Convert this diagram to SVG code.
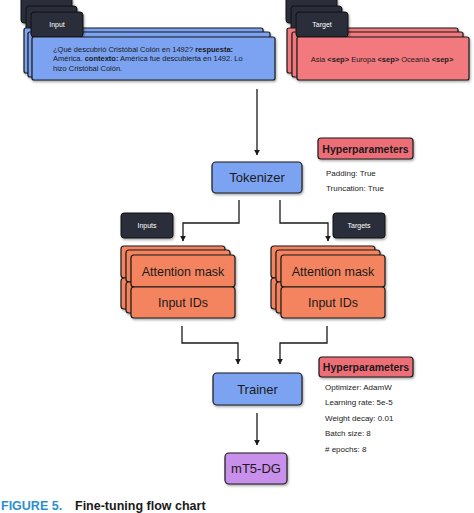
<svg xmlns="http://www.w3.org/2000/svg" width="474" height="513" viewBox="0 0 474 513">
<defs>
<filter id="sh" x="-10%" y="-10%" width="130%" height="140%">
<feDropShadow dx="1" dy="1.5" stdDeviation="1" flood-color="#000" flood-opacity="0.35"/>
</filter>
<marker id="arr" viewBox="0 0 10 10" refX="9" refY="5" markerWidth="6" markerHeight="6" markerUnits="userSpaceOnUse" orient="auto">
<path d="M0,0 L10,5 L0,10 z" fill="#1a1a1a"/>
</marker>
</defs>
<style>
text{font-family:"Liberation Sans",Arial,sans-serif;fill:#1a1a1a}
.tab{fill:#2a2e3a;stroke:#111;stroke-width:1}
.tabt{fill:#ffffff;font-size:7px;text-anchor:middle}
.blue{fill:#7ba3f2;stroke:#1a1a1a;stroke-width:1.2}
.red{fill:#f27a7e;stroke:#1a1a1a;stroke-width:1.2}
.org{fill:#f4845f;stroke:#1a1a1a;stroke-width:1.2}
.hp{fill:#ee6e78;stroke:#1a1a1a;stroke-width:1.2}
.pur{fill:#c890ea;stroke:#1a1a1a;stroke-width:1.2}
.small{font-size:7.5px}
.param{font-size:8px;fill:#222}
.hpt{font-size:10.5px;font-weight:bold;text-anchor:middle}
.big{font-size:13px;text-anchor:middle}
.mid{font-size:12.5px;text-anchor:middle}
.conn{fill:none;stroke:#1a1a1a;stroke-width:1.3}
</style>

<g id="input">
<rect class="tab" x="21" y="-3" width="51" height="26" rx="3" filter="url(#sh)"/>
<rect class="tab" x="26" y="6" width="51" height="26" rx="3" filter="url(#sh)"/>
<rect class="blue" x="24" y="28" width="239" height="45" rx="2" filter="url(#sh)"/>
<rect class="blue" x="28" y="32" width="242" height="45" rx="2" filter="url(#sh)"/>
<rect class="tab" x="31" y="12" width="52" height="25" rx="3" filter="url(#sh)"/>
<text class="tabt" x="57" y="27">Input</text>
<rect class="blue" x="32" y="37" width="243" height="43" rx="2" filter="url(#sh)"/>
<text class="small" x="53" y="51.7">¿Qué descubrió Cristóbal Colón en 1492? <tspan font-weight="bold">respuesta:</tspan></text>
<text class="small" x="53" y="60.7">América. <tspan font-weight="bold">contexto:</tspan> América fue descubierta en 1492. Lo</text>
<text class="small" x="53" y="70.7">hizo Cristóbal Colón.</text>
</g>

<g id="target">
<rect class="tab" x="286" y="-3" width="51" height="26" rx="3" filter="url(#sh)"/>
<rect class="tab" x="291" y="6" width="51" height="26" rx="3" filter="url(#sh)"/>
<rect class="red" x="287" y="28" width="171" height="45" rx="2" filter="url(#sh)"/>
<rect class="red" x="292" y="32" width="171" height="45" rx="2" filter="url(#sh)"/>
<rect class="tab" x="296" y="12" width="52" height="25" rx="3" filter="url(#sh)"/>
<text class="tabt" x="322" y="27">Target</text>
<rect class="red" x="297" y="37" width="172" height="43" rx="2" filter="url(#sh)"/>
<text class="small" x="382" y="61.5" text-anchor="middle">Asia <tspan font-weight="bold">&lt;sep&gt;</tspan> Europa <tspan font-weight="bold">&lt;sep&gt;</tspan> Oceanía <tspan font-weight="bold">&lt;sep&gt;</tspan></text>
</g>

<g id="tokenizer">
<rect class="blue" x="212" y="162" width="90" height="31" rx="4" filter="url(#sh)"/>
<text class="big" x="257" y="182">Tokenizer</text>
</g>

<g id="hyper1">
<rect class="hp" x="318" y="138" width="95" height="21" rx="3" filter="url(#sh)"/>
<text class="hpt" x="365.5" y="152.5">Hyperparameters</text>
<text class="param" x="326" y="176">Padding: True</text>
<text class="param" x="326" y="191">Truncation: True</text>
</g>

<g id="inputs">
<rect class="tab" x="121" y="213" width="52" height="25" rx="3" filter="url(#sh)"/>
<text class="tabt" x="147" y="228">Inputs</text>
<rect class="org" x="121" y="246" width="104" height="32" rx="3" filter="url(#sh)"/>
<rect class="org" x="121" y="278" width="104" height="31" rx="3" filter="url(#sh)"/>
<rect class="org" x="126" y="250" width="104" height="32" rx="3" filter="url(#sh)"/>
<rect class="org" x="126" y="282" width="104" height="31" rx="3" filter="url(#sh)"/>
<rect class="org" x="131" y="255" width="104" height="32" rx="3" filter="url(#sh)"/>
<rect class="org" x="131" y="287" width="104" height="31" rx="3" filter="url(#sh)"/>
<text class="mid" x="183" y="275.5">Attention mask</text>
<text class="mid" x="183" y="307">Input IDs</text>
</g>

<g id="targets">
<rect class="tab" x="333" y="213" width="52" height="25" rx="3" filter="url(#sh)"/>
<text class="tabt" x="359" y="228">Targets</text>
<rect class="org" x="271" y="246" width="104" height="32" rx="3" filter="url(#sh)"/>
<rect class="org" x="271" y="278" width="104" height="31" rx="3" filter="url(#sh)"/>
<rect class="org" x="276" y="250" width="104" height="32" rx="3" filter="url(#sh)"/>
<rect class="org" x="276" y="282" width="104" height="31" rx="3" filter="url(#sh)"/>
<rect class="org" x="281" y="255" width="104" height="32" rx="3" filter="url(#sh)"/>
<rect class="org" x="281" y="287" width="104" height="31" rx="3" filter="url(#sh)"/>
<text class="mid" x="333" y="275.5">Attention mask</text>
<text class="mid" x="333" y="307">Input IDs</text>
</g>

<g id="trainer">
<rect class="blue" x="213" y="373" width="89" height="32" rx="4" filter="url(#sh)"/>
<text class="big" x="257.5" y="393.5">Trainer</text>
</g>

<g id="hyper2">
<rect class="hp" x="319" y="357" width="94" height="20" rx="3" filter="url(#sh)"/>
<text class="hpt" x="366" y="371">Hyperparameters</text>
<text class="param" x="325" y="390">Optimizer: AdamW</text>
<text class="param" x="325" y="405">Learning rate: 5e-5</text>
<text class="param" x="325" y="421">Weight decay: 0.01</text>
<text class="param" x="325" y="436">Batch size: 8</text>
<text class="param" x="325" y="452"># epochs: 8</text>
</g>

<g id="mt5dg">
<rect class="pur" x="225" y="453" width="62" height="31" rx="4" filter="url(#sh)"/>
<text class="big" x="256" y="473">mT5-DG</text>
</g>

<g id="connectors">
<path class="conn" d="M257,89 V155" marker-end="url(#arr)"/>
<path class="conn" d="M239,200 V223 H183 V241" marker-end="url(#arr)"/>
<path class="conn" d="M280,200 V223 H328 V241" marker-end="url(#arr)"/>
<path class="conn" d="M182,326 V343 H238 V364" marker-end="url(#arr)"/>
<path class="conn" d="M327,326 V343 H280 V364" marker-end="url(#arr)"/>
<path class="conn" d="M257,413 V445" marker-end="url(#arr)"/>
</g>

<g id="caption">
<text x="1" y="510" font-size="12.5" font-weight="bold"><tspan fill="#2b8fcf">FIGURE 5.</tspan><tspan x="75">Fine-tuning flow chart</tspan></text>
</g>
</svg>
